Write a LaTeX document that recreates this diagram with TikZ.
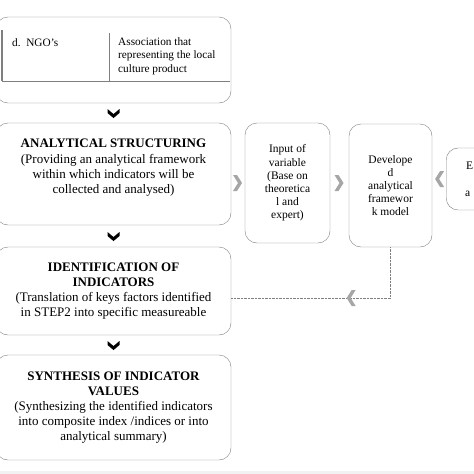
\documentclass[tikz,border=0pt]{standalone}
\usepackage{fontspec}
\setmainfont{Liberation Serif}
\usepackage{tikz}
\usetikzlibrary{positioning, calc}
\definecolor{stepedge}{HTML}{7F7F7F}
\definecolor{stepchev}{HTML}{A6A6A6}
\definecolor{stepband}{HTML}{F2F2F2}

\begin{document}
\begin{tikzpicture}[
  x=1pt, y=-1pt,
  stagebox/.style={draw=stepedge, rounded corners=12pt, minimum width=235pt, align=center, inner sep=0pt, font=\fontsize{13}{15.2}\selectfont},
  inbox/.style={draw=stepedge, rounded corners=12pt, align=center, inner sep=0pt, font=\fontsize{11.5}{13.2}\selectfont},
  cell/.style={inner sep=0pt, align=left, font=\fontsize{11.3}{13.6}\selectfont},
  tabline/.style={draw=stepedge, line width=0.6pt},
  dotline/.style={draw=stepedge, densely dotted},
  chevdown/.pic={\fill[black] (-6,-4) -- (0,1) -- (6,-4) -- (6,0) -- (0,5) -- (-6,0) -- cycle;},
  chevright/.pic={\fill[stepchev] (-5,-8) -- (-1,-8) -- (4,0) -- (-1,8) -- (-5,8) -- (0,0) -- cycle;},
  chevleft/.pic={\fill[stepchev] (5,-8) -- (1,-8) -- (-4,0) -- (1,8) -- (5,8) -- (0,0) -- cycle;}
]
\useasboundingbox (0,0) rectangle (474,474);
\fill[stepband] (0,471) rectangle (474,474);

\node[stagebox, minimum height=86pt] (actors) at (113.5,60) {};
\draw[tabline] (2,81) -- (230,81);
\draw[draw=stepedge, line width=1.6pt] (2,30) -- (2,81);
\draw[tabline] (109,33) -- (109,81);
\node[cell, anchor=north west] (ngo) at (12,38) {d.\ \ NGO's};
\node[cell, anchor=north west] (assoc) at (118,37) {Association that\\representing the local\\culture product};

\node[stagebox, minimum height=102pt] (analytic) at (113.5,174) {\textbf{ANALYTICAL STRUCTURING}\\(Providing an analytical framework\\within which indicators will be\\collected and analysed)\\ ~};
\node[stagebox, minimum height=88pt] (ident) at (113.5,291) {\textbf{IDENTIFICATION OF}\\\textbf{INDICATORS}\\(Translation of keys factors identified\\in STEP2 into specific measureable};
\node[stagebox, minimum height=105pt] (synth) at (113.5,407.5) {\textbf{SYNTHESIS OF INDICATOR}\\\textbf{VALUES}\\(Synthesizing the identified indicators\\into composite index /indices or into\\analytical summary)};

\node[inbox, minimum width=85pt, minimum height=120pt] (input) at (287.5,183) {Input of\\variable\\(Base on\\theoretica\\l and\\expert)};
\node[inbox, minimum width=83pt, minimum height=123pt] (devel) at (390.5,185.5) {Develope\\d\\analytical\\framewor\\k model};
\node[inbox, minimum width=80pt, minimum height=62pt, anchor=west, text width=80pt, align=left] (exist) at (446,179) {\hspace*{20pt}E\\[14pt]\hspace*{19pt}a};

\pic at ($(actors.south)!0.5!(analytic.north)$) {chevdown};
\pic at ($(analytic.south)!0.5!(ident.north)$) {chevdown};
\pic at ($(ident.south)!0.5!(synth.north)$) {chevdown};

\pic at ($(analytic.east |- input.west)!0.5!(input.west)$) {chevright};
\pic at ($(input.east)!0.5!(devel.west |- input.east)$) {chevright};
\pic at ($(devel.east |- exist.west)!0.5!(exist.west)$) {chevleft};

\coordinate (fedin) at ([yshift=-7pt]ident.east);
\draw[dotline] (devel.south) |- (fedin);
\pic at ($(devel.south |- fedin)!0.25!(fedin)$) {chevleft};
\end{tikzpicture}
\end{document}
